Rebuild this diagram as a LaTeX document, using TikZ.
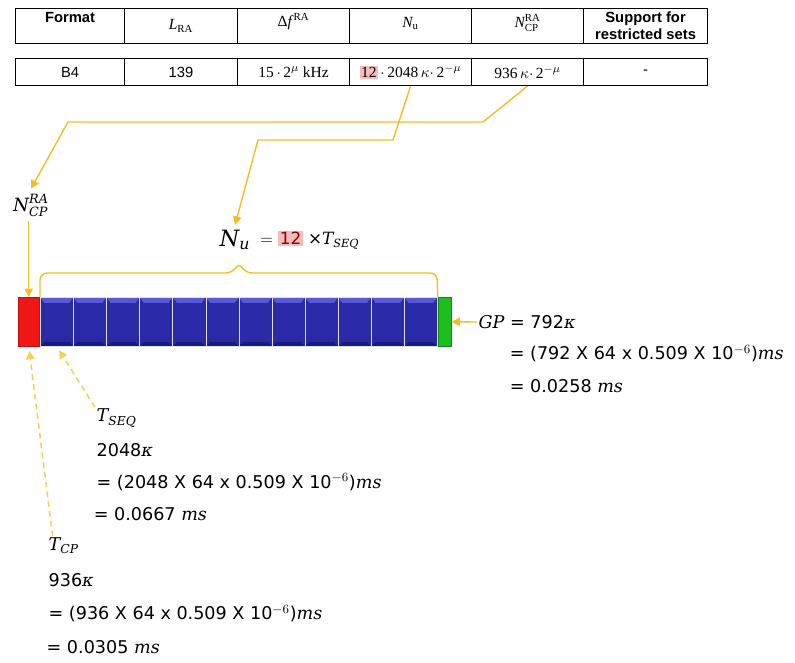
\documentclass[tikz,border=0pt]{standalone}
\usepackage{amsmath}
\usepackage{fontspec}
\setmainfont{DejaVu Sans}
\newfontfamily\arl{Liberation Sans}
\newfontfamily\tnr{Liberation Serif}
\newfontfamily\vf{DejaVu Serif}
\newcommand\vv[1]{\text{\vf\itshape #1}}
\usetikzlibrary{positioning,arrows.meta}
\definecolor{gold}{RGB}{242,190,40}
\definecolor{goldlt}{RGB}{246,206,90}
\definecolor{cellblue}{RGB}{42,42,168}
\definecolor{cellhi}{RGB}{88,88,218}
\definecolor{celllo}{RGB}{26,26,122}
\definecolor{cpred}{RGB}{240,22,22}
\definecolor{gpgreen}{RGB}{30,190,30}
\definecolor{hlpink}{RGB}{246,188,188}
\setlength{\fboxsep}{1pt}

\begin{document}
\begin{tikzpicture}[x=0.025cm,y=-0.025cm,node distance=0.8cm,
  tcell/.style={draw,line width=0.8pt,inner sep=0,anchor=north west},
  hdtxt/.style={font=\arl\fontsize{10.5}{12}\selectfont\bfseries,align=center},
  rowtxt/.style={font=\arl\fontsize{10.5}{12}\selectfont},
  tmtxt/.style={font=\tnr\fontsize{11}{13}\selectfont},
  gline/.style={draw=gold,line width=1pt,-{Triangle[length=6pt,width=6pt]}},
  gdash/.style={draw=goldlt,line width=1.1pt,dash pattern=on 4pt off 3pt,
    shorten >=3pt,-{Triangle[length=6pt,width=6pt]}},
  eq/.style={anchor=west,inner sep=1pt,font=\fontsize{12.5}{15}\selectfont},
  slot/.style={anchor=north west,inner sep=0,minimum height=34.9pt,line width=0.4pt},
  cell/.style={slot,minimum width=23.55pt,fill=cellblue,draw=white!75!gray,
    path picture={
      \fill[cellhi] (path picture bounding box.north west) -- (path picture bounding box.north east)
        -- ([shift={(-3pt,-4pt)}]path picture bounding box.north east)
        -- ([shift={(3pt,-4pt)}]path picture bounding box.north west) -- cycle;
      \fill[celllo] (path picture bounding box.south west) -- (path picture bounding box.south east)
        -- ([shift={(-3pt,3pt)}]path picture bounding box.south east)
        -- ([shift={(3pt,3pt)}]path picture bounding box.south west) -- cycle;}}]

  \useasboundingbox (0,0) rectangle (795,663);

  % table
  \foreach \n/\x/\w in {1/15/109,2/124/113,3/237/112,4/349/122,5/471/112,6/583/124} {
    \node[tcell,minimum width=\w*0.025cm,minimum height=35*0.025cm] (h\n) at (\x,8) {};
    \node[tcell,minimum width=\w*0.025cm,minimum height=27*0.025cm] (d\n) at (\x,58) {};
  }
  \node[hdtxt] (tformat) at ([yshift=6pt]h1) {Format};
  \node[tmtxt] (tlra) at (h2) {$\textit{L}_{\text{RA}}$};
  \node[tmtxt] (tdf) at ([yshift=3pt]h3) {Δ\textit{f}\textsuperscript{RA}};
  \node[tmtxt] (tnu) at ([yshift=2pt]h4) {$\textit{N}_{\text{u}}$};
  \node[tmtxt] (tncp) at ([yshift=2pt]h5) {$\textit{N}^{\text{RA}}_{\text{CP}}$};
  \node[hdtxt] (tsup) at (h6) {Support for\\restricted sets};
  \node[rowtxt] (tb4) at (d1) {B4};
  \node[rowtxt] (t139) at (d2) {139};
  \node[tmtxt] (t15) at (d3) {15$\,\cdot\,$2$^{\mu}$ kHz};
  \node[tmtxt] (t12) at (d4) {\colorbox{hlpink}{12}$\,\cdot\,$2048$\,\kappa\cdot\,$2$^{-\mu}$};
  \node[tmtxt] (t936) at (d5) {936$\,\kappa\cdot\,$2$^{-\mu}$};
  \node[rowtxt] (tdash) at (d6) {-};

  % slots
  \node[slot,minimum width=14.9pt,fill=cpred,draw=cpred!80!black] (cp) at (18,297) {};
  \foreach \i in {1,...,12}
    \node[cell] (c\i) at ({40+(\i-1)*33.1},297) {};
  \node[slot,minimum width=9.2pt,fill=gpgreen,draw=gpgreen!70!black] (gp) at (438,297) {};

  % labels
  \node[font=\fontsize{13}{15}\selectfont] (ncp) at (31,205) {$\vv{N}^{\vv{RA}}_{\vv{CP}}$};
  \node[font=\fontsize{16}{18}\selectfont] (nu) at (235,240) {$\vv{N}_{\vv{u}}$};
  \node[font=\fontsize{12}{14}\selectfont] (nurest) [right=0cm of nu.east,anchor=west]
    {$=$ \textcolor{red!55!black}{\colorbox{hlpink}{12}} ×$\vv{T}_{\vv{SEQ}}$};

  \coordinate (k1) at (483,122);
  \coordinate (k2) at (68,122);
  \coordinate (k3) at (393,140);
  \coordinate (k4) at (258,140);
  \draw[gline] (d5.south) -- (k1) -- (k2) -- (ncp.north);
  \draw[gline] (d4.south) -- (k3) -- (k4) -- (nu.north);
  \draw[gline] (ncp.south -| cp.north) -- (cp.north);
  \draw[draw=gold,line width=1pt,rounded corners=5pt] (c1.north west) -- (40,273) -- (233,273)
    -- (239,262) -- (245,273) -- (437,273) -- (c12.north east);

  % GP
  \node[eq] (gpa) at (477,322) {$\vv{GP}$ = 792\vv{κ}};
  \node[eq] (gpb) [below right=0.8cm and 0.78cm of gpa.west,anchor=west] {= (792 X 64 x 0.509 X 10$^{-6}$)\vv{ms}};
  \node[eq] (gpc) [below=0.8cm of gpb.west,anchor=west] {= 0.0258 \vv{ms}};
  \draw[gline] (gpa.west) -- (gp.east);

  % T_SEQ
  \node[eq] (tseq) at (95,418) {$\vv{T}_{\vv{SEQ}}$};
  \node[eq] (tseqa) [below=0.8cm of tseq.west,anchor=west] {2048\vv{κ}};
  \node[eq] (tseqb) [below=0.8cm of tseqa.west,anchor=west] {= (2048 X 64 x 0.509 X 10$^{-6}$)\vv{ms}};
  \node[eq] (tseqc) [below left=0.8cm and 0.07cm of tseqb.west,anchor=west] {= 0.0667 \vv{ms}};
  \draw[gdash] (tseq.north west) -- (c1.south);

  % T_CP
  \node[eq] (tcp) at (47,546) {$\vv{T}_{\vv{CP}}$};
  \node[eq] (tcpa) [below=0.84cm of tcp.west,anchor=west] {936\vv{κ}};
  \node[eq] (tcpb) [below=0.84cm of tcpa.west,anchor=west] {= (936 X 64 x 0.509 X 10$^{-6}$)\vv{ms}};
  \node[eq] (tcpc) [below left=0.84cm and 0.05cm of tcpb.west,anchor=west] {= 0.0305 \vv{ms}};
  \draw[gdash] ([xshift=4pt]tcp.north west) -- (cp.south);
\end{tikzpicture}
\end{document}
